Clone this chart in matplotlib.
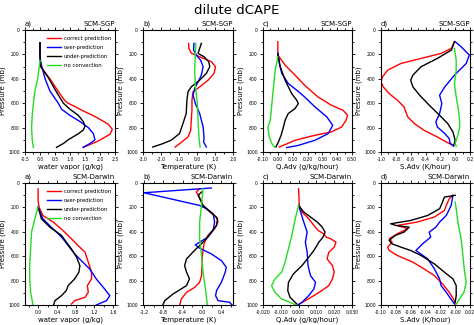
import numpy as np
import matplotlib
matplotlib.use("Agg")
import matplotlib.pyplot as plt
from matplotlib.ticker import MultipleLocator, FormatStrFormatter

# ---------------- data: (value, pressure) pairs ----------------
# top row, SCM-SGP
sgp_wv_red = [(0.0, 105), (0.0, 200), (0.02, 300), (0.33, 400), (0.6, 500), (0.83, 580), (0.94, 600),
              (1.44, 663), (1.9, 718), (2.28, 773), (2.41, 814), (2.33, 855), (1.94, 910), (1.44, 962)]
sgp_wv_blue = [(0.0, 105), (0.0, 240), (0.06, 300), (0.17, 400), (0.33, 500), (0.61, 600), (0.72, 650),
               (1.0, 700), (1.33, 750), (1.61, 800), (1.78, 850), (1.83, 900), (1.67, 930), (1.44, 962)]
sgp_wv_black = [(0.0, 105), (0.0, 200), (0.03, 300), (0.3, 400), (0.53, 500), (0.78, 600), (1.0, 650),
                (1.28, 700), (1.44, 750), (1.5, 790), (1.44, 820), (1.28, 850), (0.94, 900), (0.78, 930),
                (0.55, 962)]
sgp_wv_green = [(0.0, 250), (-0.04, 330), (-0.08, 400), (-0.17, 500), (-0.22, 600), (-0.26, 700),
                (-0.28, 800), (-0.26, 900), (-0.22, 962)]

sgp_t_red = [(-0.47, 110), (-0.45, 150), (-0.32, 190), (0.24, 225), (0.8, 260), (1.03, 301), (0.95, 356),
             (0.62, 411), (0.15, 466), (-0.22, 507), (-0.28, 575), (-0.28, 658), (-0.32, 740),
             (-0.35, 822), (-0.5, 877), (-0.97, 932), (-1.21, 959)]
sgp_t_blue = [(-0.17, 110), (-0.19, 164), (-0.04, 205), (0.2, 247), (0.34, 301), (0.24, 370), (0.06, 425),
              (-0.13, 479), (-0.22, 534), (-0.09, 603), (0.15, 685), (0.34, 795), (0.39, 877),
              (0.37, 918), (0.52, 959)]
sgp_t_black = [(0.24, 110), (0.15, 150), (0.06, 192), (0.39, 219), (0.65, 260), (0.71, 301), (0.52, 356),
               (0.15, 411), (-0.32, 466), (-0.5, 507), (-0.56, 575), (-0.6, 685), (-0.78, 767),
               (-0.97, 849), (-1.44, 904), (-2.0, 937), (-2.46, 959)]
sgp_t_green = [(-0.07, 110), (-0.09, 192), (-0.13, 329), (-0.09, 466), (0.02, 603), (0.06, 740),
               (0.11, 877), (0.17, 959)]

sgp_q_red = [(0.0, 96), (0.0, 205), (0.049, 288), (0.116, 370), (0.18, 452), (0.27, 548), (0.36, 616),
             (0.44, 658), (0.47, 699), (0.46, 740), (0.43, 795), (0.36, 836), (0.25, 863), (0.116, 904),
             (0.038, 945), (0.01, 959)]
sgp_q_blue = [(0.0, 192), (0.01, 274), (0.027, 356), (0.07, 438), (0.127, 493), (0.18, 548), (0.25, 630),
              (0.33, 712), (0.37, 781), (0.34, 849), (0.25, 904), (0.14, 945), (0.06, 964)]
sgp_q_black = [(0.0, 192), (0.016, 301), (0.049, 411), (0.093, 521), (0.127, 575), (0.138, 603),
               (0.116, 644), (0.07, 685), (0.049, 740), (0.038, 795), (0.022, 863), (0.004, 918),
               (-0.013, 959)]
sgp_q_green = [(0.0, 219), (-0.018, 329), (-0.029, 466), (-0.04, 603), (-0.051, 740), (-0.067, 795),
               (-0.058, 877), (-0.04, 932), (-0.022, 959)]

sgp_s_red = [(-0.01, 96), (-0.05, 150), (-0.19, 192), (-0.46, 233), (-0.73, 274), (-0.91, 329),
             (-0.98, 384), (-1.0, 425), (-0.97, 466), (-0.89, 521), (-0.78, 575), (-0.69, 630),
             (-0.64, 712), (-0.55, 767), (-0.42, 822), (-0.24, 877), (-0.12, 918), (-0.03, 945)]
sgp_s_blue = [(0.0, 96), (0.08, 137), (0.19, 205), (0.15, 274), (-0.01, 370), (-0.14, 466), (-0.21, 534),
              (-0.18, 603), (-0.21, 685), (-0.26, 753), (-0.24, 795), (-0.14, 849), (-0.08, 890),
              (-0.07, 926), (-0.02, 953)]
sgp_s_black = [(-0.01, 96), (-0.05, 164), (-0.24, 233), (-0.46, 301), (-0.57, 370), (-0.6, 411),
               (-0.57, 466), (-0.48, 534), (-0.35, 616), (-0.21, 699), (-0.1, 767), (-0.03, 836),
               (0.0, 904), (-0.02, 945)]
sgp_s_green = [(-0.01, 150), (0.014, 247), (0.014, 329), (-0.01, 438), (0.014, 548), (0.045, 658),
               (0.06, 740), (0.06, 795), (0.036, 863), (0.0, 932), (0.014, 953)]

# bottom row, SCM-Darwin
dwn_wv_red = [(0.0, 47), (0.0, 150), (0.02, 197), (0.1, 266), (0.32, 320), (0.53, 389), (0.71, 457),
              (0.85, 512), (1.0, 567), (1.07, 649), (1.14, 731), (1.14, 786), (1.05, 841), (1.07, 896),
              (1.0, 937), (0.78, 964), (0.71, 992)]
dwn_wv_blue = [(0.0, 197), (0.1, 293), (0.28, 362), (0.43, 416), (0.53, 457), (0.64, 512), (0.78, 581),
               (0.92, 636), (1.1, 704), (1.24, 786), (1.39, 855), (1.53, 923), (1.46, 964), (1.24, 1000)]
dwn_wv_black = [(0.0, 197), (0.07, 293), (0.25, 362), (0.5, 430), (0.6, 485), (0.71, 540), (0.82, 608),
                (0.89, 677), (0.87, 731), (0.78, 786), (0.64, 841), (0.6, 882), (0.5, 923), (0.36, 964),
                (0.33, 1000)]
dwn_wv_green = [(0.0, 197), (-0.07, 293), (-0.14, 403), (-0.16, 540), (-0.18, 677), (-0.18, 786),
                (-0.16, 896), (-0.12, 978), (-0.11, 1000)]

dwn_t_red = [(-0.05, 47), (-0.12, 74), (-0.07, 101), (0.02, 184), (0.16, 238), (0.3, 279), (0.33, 320),
             (0.26, 375), (0.12, 430), (0.04, 499), (0.007, 594), (0.0, 677), (-0.01, 759), (-0.05, 814),
             (-0.15, 855), (-0.32, 896), (-0.43, 951), (-0.46, 1000)]
dwn_t_blue = [(0.19, 41), (-1.2, 80), (-0.05, 184), (0.09, 211), (0.23, 252), (0.26, 320), (0.23, 389),
              (0.12, 444), (-0.05, 485), (-0.14, 507), (-0.05, 534), (0.19, 581), (0.4, 636), (0.5, 690),
              (0.48, 731), (0.4, 814), (0.3, 882), (0.28, 923), (0.33, 964), (0.57, 978), (0.62, 1000)]
dwn_t_black = [(-0.01, 74), (-0.08, 101), (0.02, 184), (0.18, 238), (0.32, 293), (0.3, 348), (0.19, 403),
               (0.09, 457), (-0.05, 512), (-0.19, 567), (-0.32, 622), (-0.36, 677), (-0.32, 731),
               (-0.26, 786), (-0.32, 841), (-0.6, 910), (-0.77, 964), (-0.81, 1000)]
dwn_t_green = [(0.02, 47), (-0.01, 184), (-0.05, 320), (-0.05, 457), (-0.01, 594), (0.02, 731),
               (0.07, 868), (0.11, 1000)]

dwn_q_red = [(0.0, 47), (0.0004, 184), (0.0019, 238), (0.0057, 293), (0.0086, 348), (0.011, 389),
             (0.014, 416), (0.0156, 444), (0.018, 457), (0.021, 485), (0.020, 526), (0.017, 567),
             (0.016, 622), (0.019, 677), (0.02, 731), (0.019, 786), (0.017, 841), (0.013, 882),
             (0.0086, 923), (0.0038, 964), (0.0004, 992)]
dwn_q_blue = [(0.0, 184), (0.0029, 320), (0.0048, 403), (0.0038, 485), (0.0048, 567), (0.0053, 677),
              (0.0067, 759), (0.0095, 814), (0.0086, 868), (0.0057, 923), (0.0019, 978), (-0.0004, 1000)]
dwn_q_black = [(0.0, 184), (0.0029, 238), (0.0067, 279), (0.0105, 320), (0.0133, 362), (0.0149, 403),
               (0.0137, 444), (0.0114, 485), (0.0086, 553), (0.0057, 608), (0.0019, 677), (-0.0029, 745),
               (-0.0057, 814), (-0.0061, 882), (-0.0048, 937), (-0.001, 992)]
dwn_q_green = [(0.0, 184), (-0.0019, 293), (-0.0038, 430), (-0.0057, 540), (-0.0076, 649), (-0.0095, 731),
               (-0.0133, 786), (-0.0152, 841), (-0.0133, 896), (-0.0095, 951), (-0.0038, 984),
               (-0.0015, 1000)]

dwn_s_red = [(-0.003, 101), (-0.008, 129), (-0.012, 184), (-0.0145, 225), (-0.028, 279), (-0.051, 320),
             (-0.078, 348), (-0.064, 375), (-0.078, 416), (-0.089, 457), (-0.085, 485), (-0.091, 526),
             (-0.089, 553), (-0.078, 594), (-0.057, 649), (-0.042, 704), (-0.028, 759), (-0.017, 827),
             (-0.008, 896), (-0.001, 964), (0.0, 992)]
dwn_s_blue = [(-0.003, 101), (-0.0054, 184), (-0.012, 266), (-0.021, 320), (-0.026, 362), (-0.035, 403),
              (-0.033, 444), (-0.044, 499), (-0.053, 553), (-0.037, 622), (-0.028, 704), (-0.021, 786),
              (-0.019, 841), (-0.012, 896), (-0.001, 992)]
dwn_s_black = [(0.0, 101), (-0.0145, 115), (-0.018, 170), (-0.021, 211), (-0.037, 266), (-0.06, 307),
               (-0.087, 334), (-0.08, 348), (-0.062, 362), (-0.069, 403), (-0.081, 430), (-0.089, 471),
               (-0.085, 499), (-0.073, 526), (-0.06, 553), (-0.046, 594), (-0.028, 663), (-0.0145, 731),
               (-0.003, 786), (0.0014, 841), (0.0014, 923), (0.0, 978)]
dwn_s_green = [(0.0, 156), (0.0014, 211), (0.0036, 320), (0.008, 457), (0.0104, 594), (0.0127, 731),
               (0.015, 814), (0.0118, 896), (0.006, 951), (0.0014, 992)]

labels = ["correct prediction", "over-prediction", "under-prediction", "no convection"]
colors = ["red", "blue", "black", "#22dd22"]

xlabels = ["water vapor (g/kg)", "Temperature (K)", "Q.Adv (g/kg/hour)", "S.Adv (K/hour)"]
letters = ["a)", "b)", "c)", "d)"]

top_data = [[sgp_wv_red, sgp_wv_blue, sgp_wv_black, sgp_wv_green],
            [sgp_t_red, sgp_t_blue, sgp_t_black, sgp_t_green],
            [sgp_q_red, sgp_q_blue, sgp_q_black, sgp_q_green],
            [sgp_s_red, sgp_s_blue, sgp_s_black, sgp_s_green]]
bot_data = [[dwn_wv_red, dwn_wv_blue, dwn_wv_black, dwn_wv_green],
            [dwn_t_red, dwn_t_blue, dwn_t_black, dwn_t_green],
            [dwn_q_red, dwn_q_blue, dwn_q_black, dwn_q_green],
            [dwn_s_red, dwn_s_blue, dwn_s_black, dwn_s_green]]

top_xlim = [(-0.5, 2.5), (-3.0, 2.0), (-0.1, 0.5), (-1.0, 0.2)]
top_step = [0.5, 1.0, 0.1, 0.2]
top_fmt = ["%.1f", "%.1f", "%.2f", "%.1f"]
bot_xlim = [(-0.28, 1.64), (-1.22, 0.64), (-0.02, 0.03), (-0.1, 0.02)]
bot_step = [0.4, 0.4, 0.01, 0.02]
bot_fmt = ["%.1f", "%.1f", "%.3f", "%.2f"]

W, H = 474, 325
fig = plt.figure(figsize=(W / 100, H / 100), dpi=100)
fig.text(0.5, 1 - 11 / H, "dilute dCAPE", ha="center", va="center", fontsize=9.5)

lefts = [25, 143, 263, 381]
widths = [90, 90, 89, 89]


def panel(left, width, top, series, xlim, step, fmt, letter, site, xlabel, legend):
    ax = fig.add_axes([left / W, 1 - (top + 122) / H, width / W, 122 / H])
    for s, c, lab in zip(series, colors, labels):
        x = [v[0] for v in s]
        p = [v[1] for v in s]
        ax.plot(x, p, color=c, lw=1.0, label=lab)
    ax.set_xlim(*xlim)
    ax.set_ylim(1000, 0)
    ax.xaxis.set_major_locator(MultipleLocator(step))
    ax.xaxis.set_minor_locator(MultipleLocator(step / 2))
    ax.xaxis.set_major_formatter(FormatStrFormatter(fmt))
    ax.yaxis.set_major_locator(MultipleLocator(200))
    ax.yaxis.set_minor_locator(MultipleLocator(100))
    ax.tick_params(which="both", direction="out", top=True, right=True, labelsize=3.3, pad=1.2,
                   width=0.6)
    ax.tick_params(which="major", length=2.5)
    ax.tick_params(which="minor", length=1.3)
    for sp in ax.spines.values():
        sp.set_linewidth(0.8)
    ax.set_xlabel(xlabel, fontsize=5.0, labelpad=1.0)
    ax.set_ylabel("Pressure (mb)", fontsize=5.0, labelpad=1.5)
    ax.text(0.0, 1.025, letter, transform=ax.transAxes, fontsize=5.0, ha="left", va="bottom")
    ax.text(1.0, 1.025, site, transform=ax.transAxes, fontsize=5.0, ha="right", va="bottom")
    if legend:
        ax.legend(loc="upper right", bbox_to_anchor=(1.0, 0.98), frameon=False, fontsize=3.9,
                  handlelength=2.6, handletextpad=0.5, labelspacing=0.7, borderaxespad=0.3)
    return ax


for i in range(4):
    panel(lefts[i], widths[i], 30, top_data[i], top_xlim[i], top_step[i], top_fmt[i],
          letters[i], "SCM-SGP", xlabels[i], i == 0)
    panel(lefts[i], widths[i], 183, bot_data[i], bot_xlim[i], bot_step[i], bot_fmt[i],
          letters[i], "SCM-Darwin", xlabels[i], i == 0)

fig.savefig("out.png", dpi=100)
